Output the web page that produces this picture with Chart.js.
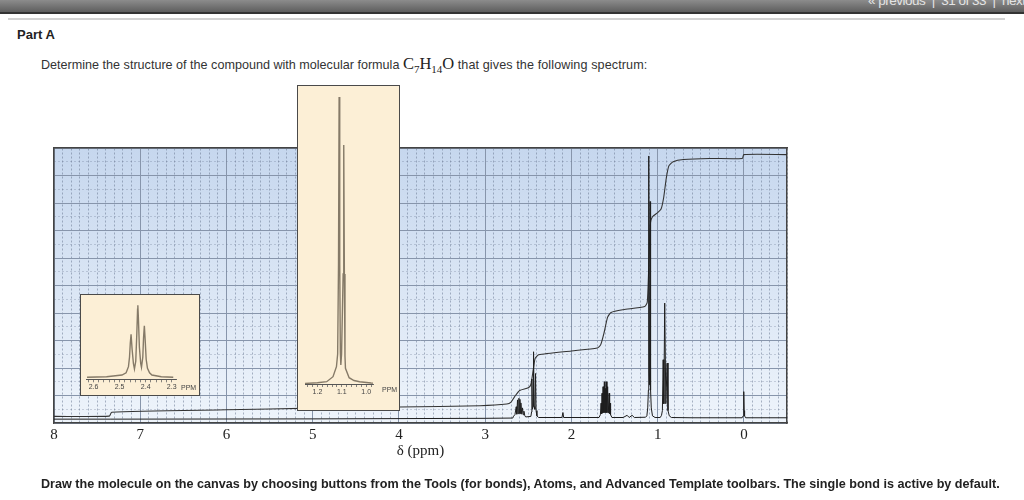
<!DOCTYPE html>
<html>
<head>
<meta charset="utf-8">
<script src="https://cdn.jsdelivr.net/npm/chart.js@4.4.1/dist/chart.umd.min.js"></script>
<style>
  html, body { margin: 0; padding: 0; background: #fff; width: 1024px; height: 500px; overflow: hidden;
    font-family: "Liberation Sans", Arial, sans-serif; }
  #topbar { position: absolute; left: 0; top: 0; width: 1024px; height: 12px;
    background: linear-gradient(#8c8c8c, #5e5e5e); border-bottom: 2px solid #333; overflow: hidden; }
  #nav { position: absolute; left: 868px; top: -7px; color: #e4e4e4; font-size: 13.5px; white-space: nowrap; letter-spacing: -0.5px; }
  #rule { position: absolute; left: 8px; top: 18px; width: 997px; height: 2px; background: #d3d3d3; }
  #part { position: absolute; left: 17px; top: 27px; font-weight: bold; font-size: 13px; color: #222; }
  #question { position: absolute; left: 41px; top: 54px; font-size: 12.6px; color: #333; white-space: nowrap; }
  #question .tail { letter-spacing: 0.1px; }
  .formula { font-family: "Liberation Serif", serif; font-size: 16.5px; color: #222; }
  .formula sub { font-size: 11px; }
  #main { position: absolute; left: 0; top: 0; }
  .inset { position: absolute; background: #fcefd6; border: 1px solid #4a4a4a; }
  .inset canvas { position: absolute; left: 0; top: 0; }
  .ppm { position: absolute; font-size: 7px; color: #444; }
  #footer { position: absolute; left: 41px; top: 477px; font-weight: bold; font-size: 12.6px; color: #222; white-space: nowrap; }
</style>
</head>
<body>
<div id="topbar"><div id="nav">« previous &nbsp;|&nbsp; 31 of 33 &nbsp;|&nbsp; next</div></div>
<div id="rule"></div>
<div id="part">Part A</div>
<div id="question">Determine the structure of the compound with molecular formula <span class="formula">C<sub>7</sub>H<sub>14</sub>O</span> <span class="tail">that gives the following spectrum:</span></div>

<canvas id="main" width="1024" height="500"></canvas>

<div class="inset" style="left:80px;top:294px;width:118px;height:100px;">
  <canvas id="inset1" width="118" height="100"></canvas>
</div>
<div class="ppm" style="left:181px;top:384px;">PPM</div>

<div class="inset" style="left:297px;top:85px;width:101px;height:324px;">
  <canvas id="inset2" width="101" height="324"></canvas>
</div>
<div class="ppm" style="left:382px;top:386px;">PPM</div>

<div id="footer">Draw the molecule on the canvas by choosing buttons from the Tools (for bonds), Atoms, and Advanced Template toolbars. The single bond is active by default.</div>

<script>
// δ axis tick labels of the main plot
const mainTicks = [8, 7, 6, 5, 4, 3, 2, 1, 0];

// main spectrum: chemical shift (ppm) and height (% of plot height)
const specPpm = [8.0, 7.34, 5.0, 3.0, 2.68, 2.671, 2.655,
  2.640, 2.633, 2.625, 2.617, 2.609, 2.603, 2.597, 2.591, 2.586, 2.576, 2.567, 2.559, 2.551, 2.54, 2.53,
  2.47, 2.462, 2.458, 2.452, 2.445, 2.439, 2.433, 2.424, 2.416, 2.41, 2.40, 2.38,
  2.11, 2.098, 2.09,
  1.68, 1.664, 1.656, 1.650, 1.645, 1.639, 1.633, 1.626, 1.618, 1.612, 1.606, 1.600, 1.595, 1.588,
  1.580, 1.572, 1.563, 1.557, 1.552, 1.546, 1.530,
  1.40, 1.354, 1.33, 1.296, 1.27,
  1.14, 1.125, 1.115, 1.107, 1.103, 1.099, 1.094, 1.087, 1.082, 1.074, 1.06, 1.03,
  0.97, 0.955, 0.945, 0.936, 0.928, 0.918, 0.905, 0.890, 0.88, 0.865, 0.84,
  0.6, 0.02, 0.008, 0.003, 0.0, -0.003, -0.008, -0.02, -0.5];
const specInt = [1.4, 1.4, 1.5, 1.7, 1.8, 2.5, 3.0,
  5.9, 3.2, 8.4, 3.4, 9.0, 3.5, 8.6, 3.4, 7.3, 3.2, 5.5, 3.0, 4.3, 2.6, 2.2,
  2.4, 4.0, 16, 5.0, 6.0, 25.9, 6.0, 5.0, 18, 4.5, 2.6, 2.0,
  2.0, 3.8, 2.0,
  2.0, 3.0, 7.2, 3.4, 10.8, 3.6, 13.2, 3.8, 15.0, 3.8, 12.5, 3.8, 15.0, 3.8,
  13.2, 3.6, 10.8, 3.4, 7.2, 3.0, 2.0,
  2.0, 2.8, 2.0, 2.8, 2.0,
  2.1, 2.6, 5.5, 12, 97.1, 18, 14, 80.5, 12, 5.5, 2.6, 2.0,
  2.0, 2.8, 4.5, 23, 7, 43.6, 7, 21.8, 4.5, 2.6, 2.0,
  1.9, 1.9, 2.6, 4.5, 11.4, 4.5, 2.6, 1.9, 1.9];

// integral trace
const integPpm = [8.0, 7.36, 7.33, 6.0, 5.0, 4.0, 3.06, 2.75, 2.7, 2.66, 2.6, 2.5, 2.47, 2.44, 2.42, 2.38,
  2.0, 1.7, 1.66, 1.62, 1.58, 1.54, 1.4, 1.15, 1.12, 1.10, 1.085, 1.06, 1.0, 0.96, 0.93, 0.9, 0.87,
  0.82, 0.7, 0.4, 0.02, 0.0, -0.5];
const integVal = [2.4, 2.5, 3.9, 4.8, 5.4, 5.8, 6.3, 6.9, 7.6, 9.5, 11.8, 12.8, 14, 20, 23.5, 24.8,
  26.2, 27.3, 28.5, 33, 38.5, 40.2, 41.2, 42.4, 44, 60, 72.5, 75, 76.5, 77.8, 82, 89, 93.5,
  95, 95.8, 96.2, 96.2, 97.6, 97.6];

// inset 1: the 2.4 ppm triplet (height in px above its axis)
const inset1Ppm = [2.625, 2.55, 2.491, 2.475, 2.466, 2.462, 2.459, 2.456, 2.452, 2.447, 2.443, 2.438, 2.434,
  2.431, 2.430, 2.428, 2.424, 2.419, 2.416, 2.411, 2.408, 2.405, 2.402, 2.398, 2.393, 2.385, 2.376, 2.34, 2.294];
const inset1Int = [2, 2.5, 4.3, 6.5, 12.6, 22, 36, 45, 30, 16, 10.3, 18, 45,
  70, 74, 62, 32, 16, 12, 22, 42, 53.6, 40, 20, 11, 6.5, 4.3, 2.6, 2];

// inset 2: the 1.1 ppm doublet
const inset2Ppm = [1.255, 1.20, 1.162, 1.136, 1.122, 1.117, 1.1135, 1.111, 1.1085, 1.106, 1.104, 1.101,
  1.0945, 1.092, 1.0895, 1.087, 1.085, 1.070, 1.05, 1.027, 0.98, 0.931];
const inset2Int = [0.5, 1.2, 2.3, 7.3, 17.3, 30, 120, 287, 120, 32, 19, 30,
  110, 239, 110, 28, 15.7, 6.3, 3.5, 2.3, 1, 0.5];

const xyPairs = (xs, ys) => xs.map((x, i) => ({ x, y: ys[i] }));

// tick marks every `step` inside the scale range
function stepTicks(s, step) {
  const out = [];
  for (let k = Math.ceil(s.min / step - 1e-9); k * step <= s.max + 1e-9; k++) {
    out.push({ value: Math.round(k * step * 1000) / 1000 });
  }
  s.ticks = out;
}

const plotBg = {
  id: 'plotBg',
  beforeDraw(chart) {
    const { ctx, chartArea: a } = chart;
    const g = ctx.createLinearGradient(0, a.top, 0, a.bottom);
    g.addColorStop(0, '#c6d7ee');
    g.addColorStop(1, '#eef4fb');
    ctx.save();
    ctx.fillStyle = g;
    ctx.fillRect(a.left, a.top, a.right - a.left, a.bottom - a.top);
    ctx.restore();
  }
};

const serif = { family: '"Liberation Serif", "Times New Roman", serif', size: 15 };
const MAJOR = '#8795ab';
const MINOR = 'rgba(105,120,145,0.55)';

new Chart(document.getElementById('main'), {
  type: 'line',
  data: {
    datasets: [
      { data: xyPairs(specPpm, specInt), borderColor: '#1e1e1e', borderWidth: 1, pointRadius: 0, tension: 0 },
      { data: xyPairs(integPpm, integVal), borderColor: '#333', borderWidth: 1.1, pointRadius: 0, tension: 0.2 }
    ]
  },
  options: {
    responsive: false,
    animation: false,
    parsing: false,
    layout: { padding: { left: 54, right: 237, top: 148, bottom: 40 } },
    plugins: { legend: { display: false }, tooltip: { enabled: false } },
    scales: {
      xm: {
        type: 'linear', position: 'top', reverse: true, min: -0.5, max: 8,
        ticks: { display: false, autoSkip: false },
        afterBuildTicks: s => stepTicks(s, 0.1),
        grid: { drawTicks: false, color: c => Math.abs(c.tick.value - Math.round(c.tick.value)) < 1e-6 ? 'rgba(0,0,0,0)' : MINOR },
        border: { display: true, color: '#444', width: 1.5, dash: [2, 2] },
        afterFit: s => { s.height = 0; }
      },
      x: {
        type: 'linear', position: 'bottom', reverse: true, min: -0.5, max: 8,
        afterBuildTicks: s => { s.ticks = mainTicks.map(v => ({ value: v })); },
        ticks: { autoSkip: false, maxRotation: 0, padding: 3, color: '#222', font: serif, callback: v => String(v) },
        grid: { drawTicks: false, color: MAJOR },
        border: { display: true, color: '#444', width: 1.5 },
        title: { display: true, text: 'δ (ppm)', color: '#222', font: serif, padding: 0 },
        afterFit: s => { s.height = 37; }
      },
      ym: {
        type: 'linear', position: 'right', min: 0, max: 100,
        ticks: { display: false },
        afterBuildTicks: s => stepTicks(s, 5),
        grid: { drawTicks: false, color: c => c.tick.value % 10 === 0 ? 'rgba(0,0,0,0)' : 'rgba(105,120,145,0.3)' },
        border: { display: true, color: '#444', width: 1.5, dash: [2, 2] },
        afterFit: s => { s.width = 0; }
      },
      y: {
        type: 'linear', position: 'left', min: 0, max: 100,
        ticks: { display: false },
        afterBuildTicks: s => stepTicks(s, 10),
        grid: { drawTicks: false, color: MAJOR },
        border: { display: true, color: '#444', width: 1.5 },
        afterFit: s => { s.width = 0; }
      }
    }
  },
  plugins: [plotBg]
});

function insetChart(id, ppm, inten, xmin, xmax, ymax, pad, axisH) {
  return new Chart(document.getElementById(id), {
    type: 'line',
    data: { datasets: [{ data: xyPairs(ppm, inten), borderColor: '#857a68', borderWidth: 1.4, pointRadius: 0, tension: 0 }] },
    options: {
      responsive: false,
      animation: false,
      parsing: false,
      layout: { padding: pad },
      plugins: { legend: { display: false }, tooltip: { enabled: false } },
      scales: {
        x: {
          type: 'linear', reverse: true, min: xmin, max: xmax,
          afterBuildTicks: s => stepTicks(s, 0.02),
          ticks: {
            autoSkip: false, maxRotation: 0, minRotation: 0, padding: 1, color: '#444',
            font: { family: '"Liberation Sans", Arial, sans-serif', size: 7 },
            callback: v => { const r = Math.round(v * 10) / 10; return Math.abs(v - r) < 1e-6 ? r.toFixed(1) : ''; }
          },
          grid: { drawOnChartArea: false, drawTicks: true, tickLength: 3, color: '#666', lineWidth: 0.8 },
          border: { display: true, color: '#555', width: 1 },
          afterFit: s => { s.height = axisH; }
        },
        y: { display: false, min: 0, max: ymax }
      }
    }
  });
}

insetChart('inset1', inset1Ppm, inset1Int, 2.2835, 2.629, 83.3, { left: 5, right: 23, top: 1, bottom: 0 }, 15.7);
insetChart('inset2', inset2Ppm, inset2Int, 0.972, 1.251, 297, { left: 7, right: 26, top: 1, bottom: 0 }, 26);
</script>
</body>
</html>
